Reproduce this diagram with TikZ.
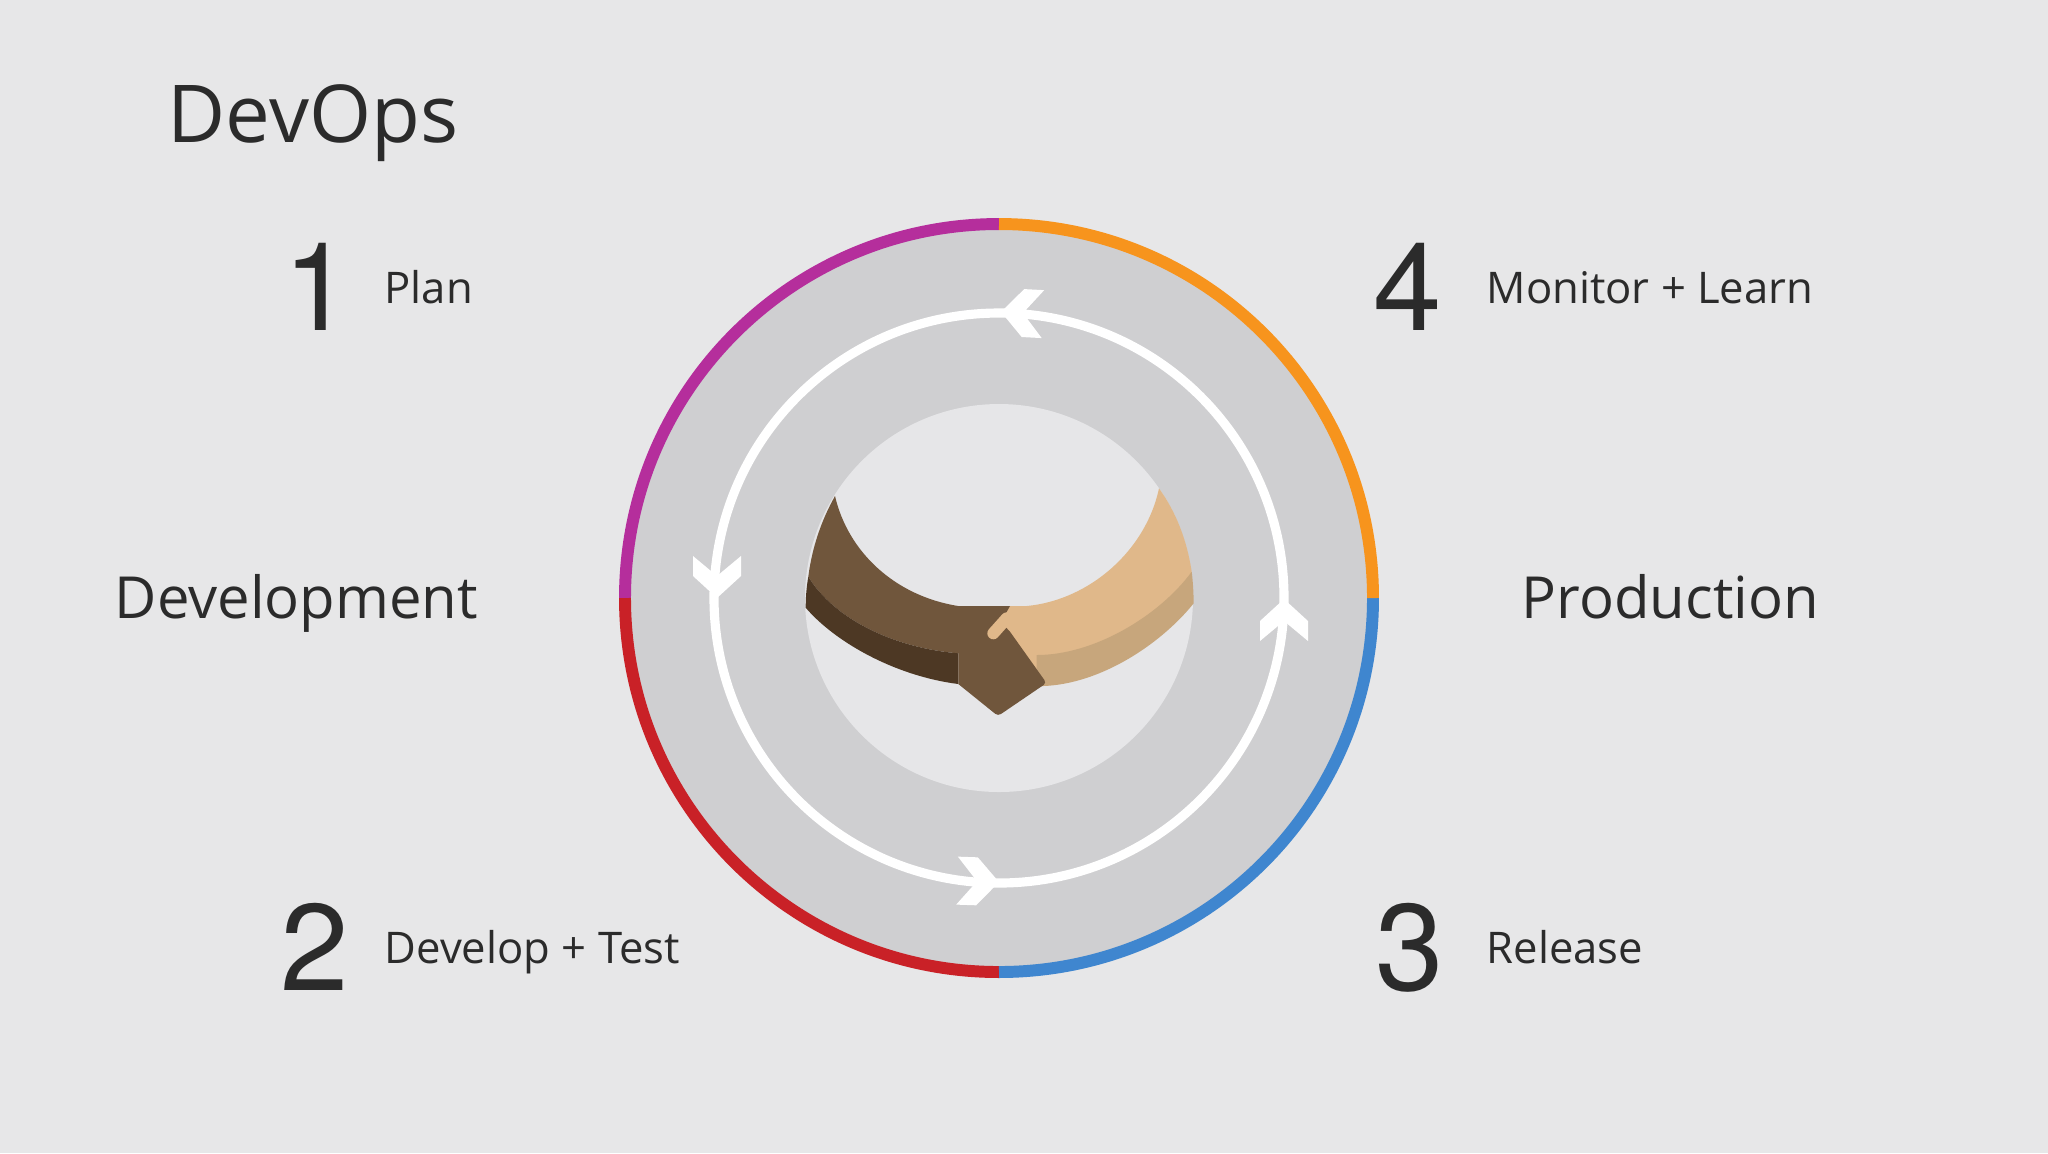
\documentclass[tikz,border=0pt]{standalone}
\usepackage{fontspec}
\setmainfont{Open Sans}
\newfontfamily\digitfont{TeX Gyre Heros}
\definecolor{PageGray}{HTML}{E7E7E8}
\definecolor{DiskGray}{HTML}{CFCFD1}
\definecolor{HoleGray}{HTML}{E6E6E8}
\definecolor{InkGray}{HTML}{2B2B2B}
\definecolor{RingPurple}{HTML}{B52E9C}
\definecolor{RingOrange}{HTML}{F7941D}
\definecolor{RingBlue}{HTML}{3F86CF}
\definecolor{RingRed}{HTML}{C92127}
\definecolor{DarkSkin}{HTML}{70563C}
\definecolor{DarkShade}{HTML}{4D3824}
\definecolor{LightSkin}{HTML}{E0B88A}
\definecolor{LightShade}{HTML}{C7A67C}
\tikzset{
  txt/.style={anchor=base west,inner sep=0pt,text=InkGray},
  titletxt/.style={txt,font=\fontsize{22.7}{28}\selectfont},
  headtxt/.style={txt,font=\fontsize{16.5}{20}\selectfont},
  steptxt/.style={txt,font=\fontsize{12.4}{15}\selectfont},
  numtxt/.style={anchor=base,inner sep=0pt,text=InkGray,font=\digitfont\fontsize{35}{40}\selectfont},
  ringarc/.style={line width=3.4pt},
  chevron/.pic={\fill[white] (2,0) -- (-20,24) -- (-40,24) -- (-20,0) -- (-40,-24) -- (-20,-24) -- cycle;}
}
\begin{document}
\begin{tikzpicture}[x=0.01cm,y=-0.01cm]
   \fill[PageGray] (0,0) rectangle (2048,1153);
   \useasboundingbox (0,0) rectangle (2048,1153);
   \coordinate (mid) at (999,598);

   % disk and hole
   \fill[DiskGray] (mid) circle[radius=370];
   \fill[HoleGray] (mid) circle[radius=194];

   % coloured ring
   \draw[ringarc,RingPurple] (999,224) arc[start angle=270,end angle=180,radius=374];
   \draw[ringarc,RingRed] (625,598) arc[start angle=180,end angle=90,radius=374];
   \draw[ringarc,RingBlue] (999,972) arc[start angle=90,end angle=0,radius=374];
   \draw[ringarc,RingOrange] (1373,598) arc[start angle=0,end angle=-90,radius=374];

   % cycle
   \draw[white,line width=2.6pt] (mid) circle[radius=285];
   \pic[rotate=177] at (1003,312) {chevron};
   \pic[rotate=-90] at (717,596) {chevron};
   \pic[rotate=-2] at (997,882) {chevron};
   \pic[rotate=90] at (1284,601) {chevron};

   % handshake, right arm
   \fill[LightSkin] (1159,488.3) .. controls (1146,550) and (1090,600) .. (1026.7,606)
      -- (1005,606) -- (1005,635) -- (1036,680) -- (1100,665) -- (1170,620)
      -- (1191.7,571.7) .. controls (1187,540) and (1176,512) .. (1159,488.3) -- cycle;
   \fill[LightShade] (1191.7,571.7) .. controls (1160,615) and (1095,655) .. (1036.7,655)
      -- (1036.7,686) -- (1043.3,686) .. controls (1100,684) and (1160,645) .. (1193.7,603.3)
      .. controls (1193.5,592) and (1193,582) .. (1191.7,571.7) -- cycle;
   % handshake, left arm
   \fill[DarkSkin] (835,496) .. controls (848,552) and (895,596) .. (958.3,606)
      -- (963,606) -- (963,653.6) -- (958.3,653.3) .. controls (895,648) and (835,620) .. (808.3,576.7)
      .. controls (812,548) and (821,521) .. (835,496) -- cycle;
   \fill[DarkShade] (808.3,576.7) .. controls (835,620) and (895,648) .. (958.3,653.3)
      -- (958.3,684) .. controls (895,676) and (835,642) .. (805.7,607.7)
      .. controls (805.7,597) and (806.5,587) .. (808.3,576.7) -- cycle;
   % cuff and finger
   \fill[DarkSkin] (958.3,606) -- (1010,606) -- (1001,622) -- (1010,631.7) [rounded corners=1pt] -- (1046.5,683)
      -- (998,716) [sharp corners] -- (958.3,684) -- cycle;
   \draw[LightSkin,line width=3.4pt,line cap=round] (1006.7,618.3) -- (993.3,633.3);

   % labels
   \node[titletxt] (devops) at (167,142) {DevOps};
   \node[headtxt] (development) at (114,618) {Development};
   \node[headtxt] (production) at (1521,618) {Production};
   \node[numtxt] (one) at (318,330) {1};
   \node[numtxt] (two) at (315,990) {2};
   \node[numtxt] (three) at (1410,990) {3};
   \node[numtxt] (four) at (1408,330) {4};
   \node[steptxt] (plan) at (384,303) {Plan};
   \node[steptxt] (develop) at (384,963) {Develop + Test};
   \node[steptxt] (release) at (1486,963) {Release};
   \node[steptxt] (monitor) at (1486,303) {Monitor + Learn};
\end{tikzpicture}
\end{document}
